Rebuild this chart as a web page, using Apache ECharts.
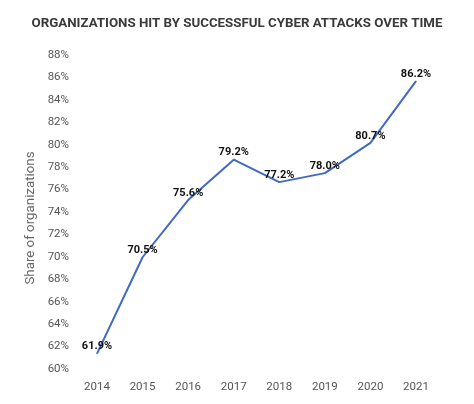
<!DOCTYPE html>
<html>
<head>
<meta charset="utf-8">
<script src="https://cdn.jsdelivr.net/npm/echarts@6/dist/echarts.min.js"></script>
<style>
html,body{margin:0;padding:0;background:#fff;}
#chart{width:474px;height:404px;}
</style>
</head>
<body>
<div id="chart"></div>
<script>
const titleText = "ORGANIZATIONS HIT BY SUCCESSFUL CYBER ATTACKS OVER TIME";
const years = ["2014","2015","2016","2017","2018","2019","2020","2021"];
const shareValues = [61.9, 70.5, 75.6, 79.2, 77.2, 78.0, 80.7, 86.2];
const yMin = 60, yMax = 88, yStep = 2;
const yAxisName = "Share of organizations";

const chart = echarts.init(document.getElementById('chart'), null, {renderer:'canvas'});
chart.setOption({
  animation: false,
  backgroundColor: '#ffffff',
  textStyle: {fontFamily: 'Roboto'},
  title: {
    text: titleText,
    left: 'center',
    top: 12,
    textStyle: {fontFamily: 'Roboto', fontSize: 13.3, fontWeight: 'bold', color: '#3a3a3a'}
  },
  grid: {left: 97, right: 58, top: 61, bottom: 29, containLabel: false},
  xAxis: {
    type: 'category',
    data: years,
    boundaryGap: false,
    axisLine: {show: false},
    axisTick: {show: false},
    splitLine: {show: false},
    axisLabel: {color: '#555', fontSize: 11.5, margin: 6, fontFamily: 'Roboto'}
  },
  yAxis: {
    type: 'value',
    min: yMin, max: yMax, interval: yStep,
    name: yAxisName,
    nameLocation: 'middle',
    nameGap: 53,
    nameTextStyle: {color: '#666', fontSize: 13.3, fontFamily: 'Roboto'},
    axisLine: {show: false},
    axisTick: {show: false},
    splitLine: {show: false},
    axisLabel: {color: '#555', fontSize: 11.5, margin: 28, verticalAlign: 'bottom', fontFamily: 'Roboto',
      formatter: v => v + '%'}
  },
  series: [{
    type: 'line',
    data: shareValues,
    showSymbol: true,
    symbol: 'circle',
    symbolSize: 1,
    lineStyle: {color: '#4169c1', width: 2},
    itemStyle: {color: '#4169c1'},
    label: {
      show: true,
      position: 'top',
      distance: 1,
      color: '#111',
      fontSize: 11,
      fontWeight: 'bold',
      fontFamily: 'Roboto',
      formatter: p => p.value.toFixed(1) + '%'
    }
  }]
});
</script>
</body>
</html>
